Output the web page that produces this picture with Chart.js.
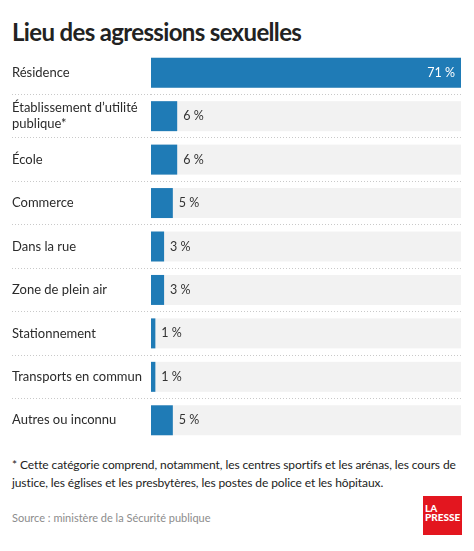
<!DOCTYPE html>
<html lang="fr">
<head>
<meta charset="utf-8">
<script src="https://cdn.jsdelivr.net/npm/chart.js@4.4.1/dist/chart.umd.min.js"></script>
<style>
  body { margin: 0; width: 474px; height: 551px; background: #fff; position: relative; overflow: hidden;
         font-family: Lato, "Noto Sans", sans-serif; color: #2b2b2b; }
  h1 { position: absolute; left: 12px; top: 17px; margin: 0; font-size: 24px; line-height: 30px; font-weight: 700;
       letter-spacing: -0.65px; color: #222; white-space: nowrap; }
  #zone { position: absolute; left: 12px; top: 51px; width: 449px; height: 391px; }
  .note { position: absolute; left: 12px; top: 456px; width: 460px; font-size: 12px; line-height: 18px; color: #222;
          letter-spacing: -0.1px; }
  .source { position: absolute; left: 12px; top: 510px; font-size: 11px; line-height: 16px; color: #8c8c8c; }
  .logo { position: absolute; left: 423px; top: 496px; width: 39px; height: 39px; background: #e3161f; color: #fff;
          font-weight: 900; font-size: 10px; line-height: 9px; box-sizing: border-box; padding: 8px 0 0 2px; }
</style>
</head>
<body>
<h1>Lieu des agressions sexuelles</h1>
<div id="zone"><canvas id="graph"></canvas></div>
<div class="note">* Cette catégorie comprend, notamment, les centres sportifs et les arénas, les cours de justice, les églises et les presbytères, les postes de police et les hôpitaux.</div>
<div class="source">Source : ministère de la Sécurité publique</div>
<div class="logo">LA<br>PRESSE</div>

<script>
// ---- données ----
const lieux = [
  'Résidence',
  ['Établissement d’utilité', 'publique*'],
  'École',
  'Commerce',
  'Dans la rue',
  'Zone de plein air',
  'Stationnement',
  'Transports en commun',
  'Autres ou inconnu'
];
const parts = [71, 6, 6, 5, 3, 3, 1, 1, 5];
const echelleMax = 71;

const BLEU = '#1f7bb6';
const FOND = '#f2f2f2';
const POINTILLE = '#c9c9c9';

// bande grise derrière chaque barre
const fondBarres = {
  id: 'fondBarres',
  beforeDatasetsDraw(chart) {
    const { ctx, chartArea } = chart;
    ctx.save();
    ctx.fillStyle = FOND;
    chart.getDatasetMeta(0).data.forEach(b => {
      ctx.fillRect(chartArea.left, b.y - b.height / 2, chartArea.right - chartArea.left, b.height);
    });
    ctx.restore();
  }
};

// étiquettes de valeurs
const etiquettes = {
  id: 'etiquettes',
  afterDatasetsDraw(chart) {
    const { ctx } = chart;
    ctx.save();
    ctx.font = '12.5px Lato, "Noto Sans", sans-serif';
    ctx.textBaseline = 'middle';
    chart.getDatasetMeta(0).data.forEach((b, i) => {
      const txt = parts[i] + '\u00a0%';
      if (parts[i] >= echelleMax) {
        ctx.fillStyle = '#fff';
        ctx.textAlign = 'right';
        ctx.fillText(txt, b.x - 6, b.y);
      } else {
        ctx.fillStyle = '#333';
        ctx.textAlign = 'left';
        ctx.fillText(txt, b.x + 6, b.y);
      }
    });
    ctx.restore();
  }
};

const invisibleAuxBords = c => (c.index === 0 || c.index === undefined) ? 'rgba(0,0,0,0)' : POINTILLE;

new Chart(document.getElementById('graph'), {
  type: 'bar',
  data: {
    labels: lieux,
    datasets: [{
      data: parts,
      backgroundColor: BLEU,
      borderWidth: 0,
      categoryPercentage: 1,
      barPercentage: 0.69
    }]
  },
  options: {
    indexAxis: 'y',
    responsive: true,
    maintainAspectRatio: false,
    animation: false,
    layout: { padding: 0 },
    plugins: { legend: { display: false }, tooltip: { enabled: false } },
    scales: {
      x: { display: false, min: 0, max: echelleMax },
      y: {
        grid: {
          offset: true,
          color: invisibleAuxBords,
          lineWidth: 1,
          tickLength: 139,
          tickBorderDash: [1, 2]
        },
        border: { display: false, dash: [1, 2] },
        ticks: {
          crossAlign: 'far',
          padding: 0,
          color: '#2b2b2b',
          font: { family: 'Lato, "Noto Sans", sans-serif', size: 13, lineHeight: 1.25 }
        },
        afterFit: s => { s.width = 139; s.paddingTop = 0; s.paddingBottom = 0; }
      }
    }
  },
  plugins: [fondBarres, etiquettes]
});
</script>
</body>
</html>
